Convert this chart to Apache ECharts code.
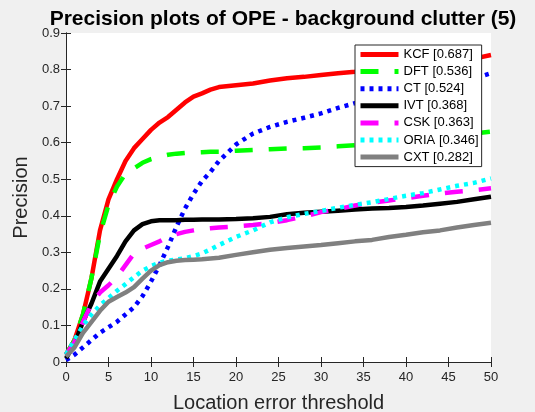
<!DOCTYPE html>
<html>
<head>
<meta charset="utf-8">
<script src="https://cdn.jsdelivr.net/npm/echarts@6/dist/echarts.min.js"></script>
<style>
  html, body { margin: 0; padding: 0; background: #f0f0f0; }
  #chart { width: 535px; height: 412px; }
</style>
</head>
<body>
<div id="chart"></div>
<script>
// location error thresholds (px)
var thresholds = [0, 1, 2, 3, 4, 5, 6, 7, 8, 9, 10, 11, 12, 13, 14, 15, 16, 17, 18,
  20, 22, 24, 26, 28, 30, 32, 34, 36, 38, 40, 42, 44, 46, 48, 50];

// precision values, one per threshold
var kcf = [0.02, 0.06, 0.13, 0.23, 0.36, 0.445, 0.50, 0.55, 0.585, 0.61, 0.635, 0.655, 0.67, 0.69, 0.71, 0.726, 0.735, 0.745, 0.752,
  0.757, 0.762, 0.77, 0.776, 0.78, 0.785, 0.79, 0.794, 0.80, 0.805, 0.81, 0.815, 0.82, 0.825, 0.83, 0.84];
var dft = [0.02, 0.06, 0.13, 0.23, 0.35, 0.43, 0.48, 0.515, 0.53, 0.545, 0.555, 0.562, 0.567, 0.57, 0.572, 0.573, 0.574, 0.575, 0.575,
  0.578, 0.58, 0.582, 0.584, 0.585, 0.587, 0.59, 0.593, 0.597, 0.60, 0.605, 0.61, 0.615, 0.62, 0.625, 0.63];
var ct = [0.005, 0.02, 0.04, 0.06, 0.08, 0.095, 0.11, 0.13, 0.15, 0.18, 0.22, 0.265, 0.315, 0.37, 0.42, 0.46, 0.495, 0.52, 0.55,
  0.595, 0.625, 0.643, 0.657, 0.668, 0.68, 0.695, 0.708, 0.72, 0.73, 0.74, 0.75, 0.76, 0.77, 0.775, 0.79];
var ivt = [0.01, 0.05, 0.11, 0.16, 0.22, 0.255, 0.29, 0.33, 0.36, 0.377, 0.385, 0.388, 0.388, 0.388, 0.389, 0.389, 0.39, 0.39, 0.39,
  0.391, 0.393, 0.397, 0.404, 0.408, 0.411, 0.414, 0.417, 0.42, 0.421, 0.424, 0.428, 0.433, 0.438, 0.445, 0.452];
var csk = [0.02, 0.055, 0.11, 0.16, 0.19, 0.21, 0.233, 0.265, 0.297, 0.31, 0.32, 0.33, 0.342, 0.35, 0.356, 0.36, 0.364, 0.366, 0.368,
  0.371, 0.375, 0.38, 0.388, 0.398, 0.41, 0.418, 0.428, 0.436, 0.442, 0.448, 0.455, 0.461, 0.466, 0.47, 0.475];
var oria = [0.02, 0.06, 0.10, 0.13, 0.155, 0.175, 0.195, 0.213, 0.232, 0.25, 0.262, 0.272, 0.277, 0.28, 0.284, 0.29, 0.297, 0.308, 0.32,
  0.342, 0.36, 0.382, 0.396, 0.405, 0.413, 0.422, 0.43, 0.437, 0.446, 0.455, 0.462, 0.472, 0.482, 0.49, 0.502];
var cxt = [0.015, 0.04, 0.08, 0.11, 0.14, 0.165, 0.178, 0.19, 0.205, 0.228, 0.25, 0.265, 0.273, 0.277, 0.279, 0.28, 0.281, 0.283, 0.285,
  0.293, 0.30, 0.307, 0.312, 0.316, 0.32, 0.325, 0.33, 0.334, 0.342, 0.348, 0.355, 0.36, 0.368, 0.375, 0.381];

var names = ['KCF [0.687]', 'DFT [0.536]', 'CT [0.524]', 'IVT [0.368]', 'CSK [0.363]', 'ORIA [0.346]', 'CXT [0.282]'];
var colors = ['#ff0000', '#00ff00', '#0000ff', '#000000', '#ff00ff', '#00ffff', '#808080'];
var dashes = ['solid', [18, 16], [4, 5], 'solid', [18, 16], [4, 5], 'solid'];
var values = [kcf, dft, ct, ivt, csk, oria, cxt];

var font = 'Liberation Sans, Arial, sans-serif';
var axisColor = '#262626';

function pairs(ys) {
    return ys.map(function (y, i) { return [thresholds[i], y]; });
}

var series = names.map(function (name, i) {
    return {
        name: name,
        type: 'line',
        xAxisIndex: 0,
        yAxisIndex: 0,
        symbol: 'none',
        smooth: false,
        lineStyle: { color: colors[i], width: 4.5, type: dashes[i], cap: 'butt' },
        itemStyle: { color: colors[i] },
        data: pairs(values[i])
    };
});

var tickOpts = { show: true, inside: true, length: 5, lineStyle: { color: axisColor } };

var myChart = echarts.init(document.getElementById('chart'));
myChart.setOption({
    backgroundColor: '#f0f0f0',
    animation: false,
    title: {
        text: 'Precision plots of OPE - background clutter (5)',
        left: 278,
        textAlign: 'center',
        top: 4,
        textStyle: { fontFamily: font, fontSize: 21, fontWeight: 'bold', color: '#000' }
    },
    grid: {
        left: 66, right: 44, top: 33, bottom: 50,
        outerBoundsMode: 'none',
        containLabel: false,
        show: true, backgroundColor: '#ffffff', borderWidth: 0
    },
    legend: {
        orient: 'vertical',
        left: 355,
        top: 45,
        itemWidth: 38,
        itemHeight: 14,
        itemGap: 4.1,
        padding: [3, 3, 3, 3],
        backgroundColor: '#ffffff',
        borderColor: '#262626',
        borderWidth: 1,
        borderRadius: 0,
        itemStyle: { opacity: 0 },
        lineStyle: { width: 5 },
        textStyle: { fontFamily: font, fontSize: 13, color: '#000' },
        data: names
    },
    xAxis: [{
        type: 'value', min: 0, max: 50, interval: 5,
        name: 'Location error threshold',
        nameLocation: 'middle',
        nameGap: 31,
        nameTextStyle: { fontFamily: font, fontSize: 20, color: axisColor },
        axisLine: { lineStyle: { color: axisColor } },
        axisTick: tickOpts,
        axisLabel: { fontFamily: font, fontSize: 13, color: axisColor, margin: 9 },
        splitLine: { show: false }
    }, {
        type: 'value', min: 0, max: 50, interval: 5, position: 'top',
        axisLine: { show: true, lineStyle: { color: axisColor } },
        axisTick: tickOpts,
        axisLabel: { show: false },
        splitLine: { show: false }
    }],
    yAxis: [{
        type: 'value', min: 0, max: 0.9, interval: 0.1,
        name: 'Precision',
        nameLocation: 'middle',
        nameGap: 30,
        nameTextStyle: { fontFamily: font, fontSize: 20, color: axisColor },
        axisLine: { show: true, lineStyle: { color: axisColor } },
        axisTick: tickOpts,
        axisLabel: {
            fontFamily: font, fontSize: 13, color: axisColor, margin: 6,
            formatter: function (v) { return v === 0 ? '0' : v.toFixed(1); }
        },
        splitLine: { show: false }
    }, {
        type: 'value', min: 0, max: 0.9, interval: 0.1, position: 'right',
        axisLine: { show: true, lineStyle: { color: axisColor } },
        axisTick: tickOpts,
        axisLabel: { show: false },
        splitLine: { show: false }
    }],
    series: series
});
</script>
</body>
</html>
